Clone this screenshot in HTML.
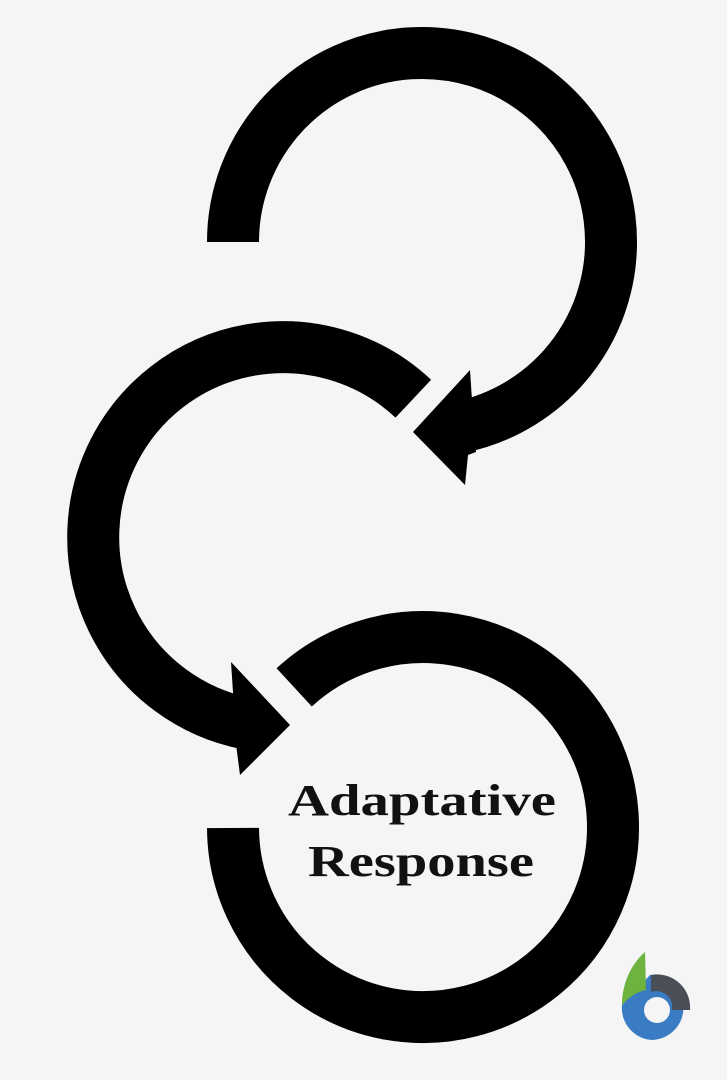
<!DOCTYPE html>
<html><head><meta charset="utf-8"><style>
html,body{margin:0;padding:0;background:#f5f5f5;}
svg{display:block;}
</style></head><body>
<svg width="727" height="1080" viewBox="0 0 727 1080" xmlns="http://www.w3.org/2000/svg">
<rect width="727" height="1080" fill="#f5f5f5"/>
<g fill="none" stroke="#000" stroke-width="52" stroke-linecap="butt">
<path d="M233 242 A189 189 0 1 1 458 427.5"/>
<path d="M413.3 398.7 A190 190 0 1 0 246 723.5"/>
<path d="M294.2 687.4 A190 190 0 1 1 233 828"/>
</g>
<polygon points="413,432 470,370 472,400 476,452 468,455 465,485" fill="#000"/>
<polygon points="290,725 231,662 233,692 236,744 240,775" fill="#000"/>
<text x="422" y="815" text-anchor="middle" font-family="Liberation Serif, serif" font-weight="bold" font-size="44" textLength="268" lengthAdjust="spacingAndGlyphs" fill="#111">Adaptative</text>
<text x="421" y="876" text-anchor="middle" font-family="Liberation Serif, serif" font-weight="bold" font-size="44" textLength="226" lengthAdjust="spacingAndGlyphs" fill="#111">Response</text>
<g>
<path d="M650 975 A32 32 0 1 1 652 1040 A32 32 0 0 1 622 1005 Z" fill="#3a7cc4"/>
<path d="M651 975 A33 33 0 0 1 690 1010 L672 1010 A16 16 0 0 0 651 992 Z" fill="#4a4e56"/>
<path d="M622 1005 C622 985 630 965 645 952 L646 990 C636 992 628 998 622 1005 Z" fill="#6cb33f"/>
<circle cx="657" cy="1010" r="13" fill="#f5f5f5"/>
</g>
</svg>
</body></html>
